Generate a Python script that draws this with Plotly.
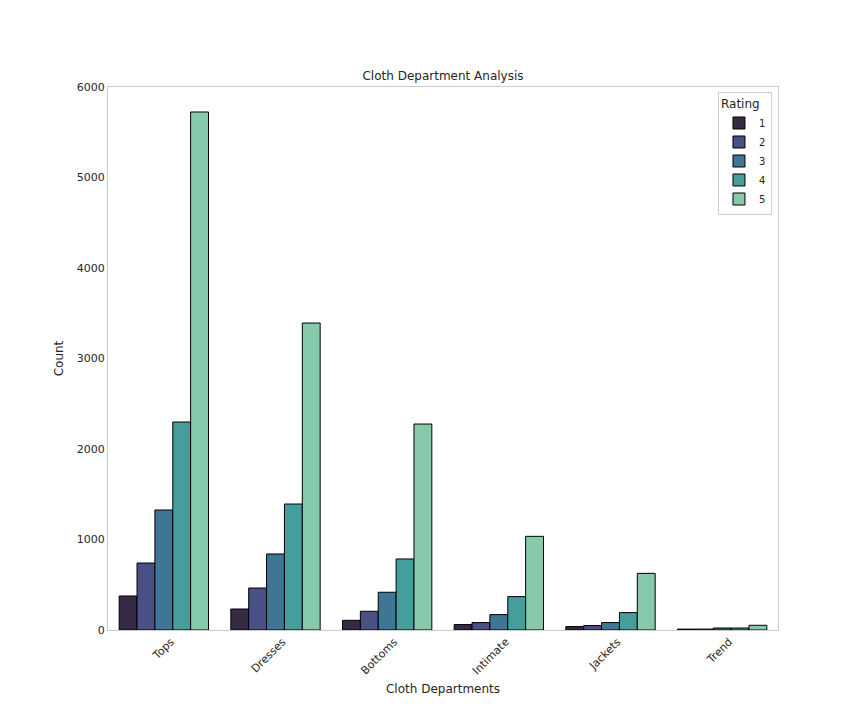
import plotly.graph_objects as go

departments = ["Tops", "Dresses", "Bottoms", "Intimate", "Jackets", "Trend"]
ratings = ["1", "2", "3", "4", "5"]

# counts per rating, one list per rating, ordered like departments
rating_1 = [376, 232, 107, 60, 38, 10]
rating_2 = [740, 464, 207, 82, 49, 10]
rating_3 = [1326, 840, 417, 170, 82, 22]
rating_4 = [2298, 1392, 785, 369, 192, 22]
rating_5 = [5724, 3392, 2276, 1035, 626, 52]

y_ticks = [0, 1000, 2000, 3000, 4000, 5000, 6000]

counts = [rating_1, rating_2, rating_3, rating_4, rating_5]
colors = ["#372a45", "#485085", "#3f7693", "#459d9c", "#86c9ab"]

FONT = "DejaVu Sans"

fig = go.Figure()
for r, vals, c in zip(ratings, counts, colors):
    fig.add_trace(go.Bar(
        x=departments,
        y=vals,
        name=r,
        marker=dict(color=c, line=dict(color="black", width=1)),
    ))

# page is shown with an 8px body margin, so margins are shifted by 8px
fig.update_layout(
    width=864,
    height=720,
    barmode="group",
    bargap=0.2,
    bargroupgap=0,
    plot_bgcolor="white",
    paper_bgcolor="white",
    font=dict(family=FONT, size=11, color="#262626"),
    margin=dict(l=100, r=94, t=79, b=98),
    title=dict(
        text="Cloth Department Analysis",
        x=0.5,
        xref="paper",
        xanchor="center",
        y=1 - 68 / 720,
        yanchor="middle",
        font=dict(size=12, color="#262626"),
    ),
    xaxis=dict(
        title=dict(text="Cloth Departments", font=dict(size=12), standoff=8),
        tickangle=-45,
        ticklabelshift=7,
        showgrid=False,
        showline=True,
        linecolor="#cccccc",
        mirror=True,
        ticks="",
        tickfont=dict(size=11),
    ),
    yaxis=dict(
        title=dict(text="Count", font=dict(size=12), standoff=10),
        range=[0, 6000],
        tickvals=y_ticks,
        showgrid=False,
        zeroline=False,
        showline=True,
        linecolor="#cccccc",
        mirror=True,
        ticks="",
        tickfont=dict(size=11),
    ),
    legend=dict(
        title=dict(text="Rating", font=dict(size=12)),
        x=0.991,
        y=0.991,
        xanchor="right",
        yanchor="top",
        bordercolor="#d0d0d0",
        borderwidth=1,
        bgcolor="rgba(255,255,255,0.8)",
        font=dict(size=10),
        tracegroupgap=0,
        itemwidth=30,
    ),
)

fig.write_html("out.html")
